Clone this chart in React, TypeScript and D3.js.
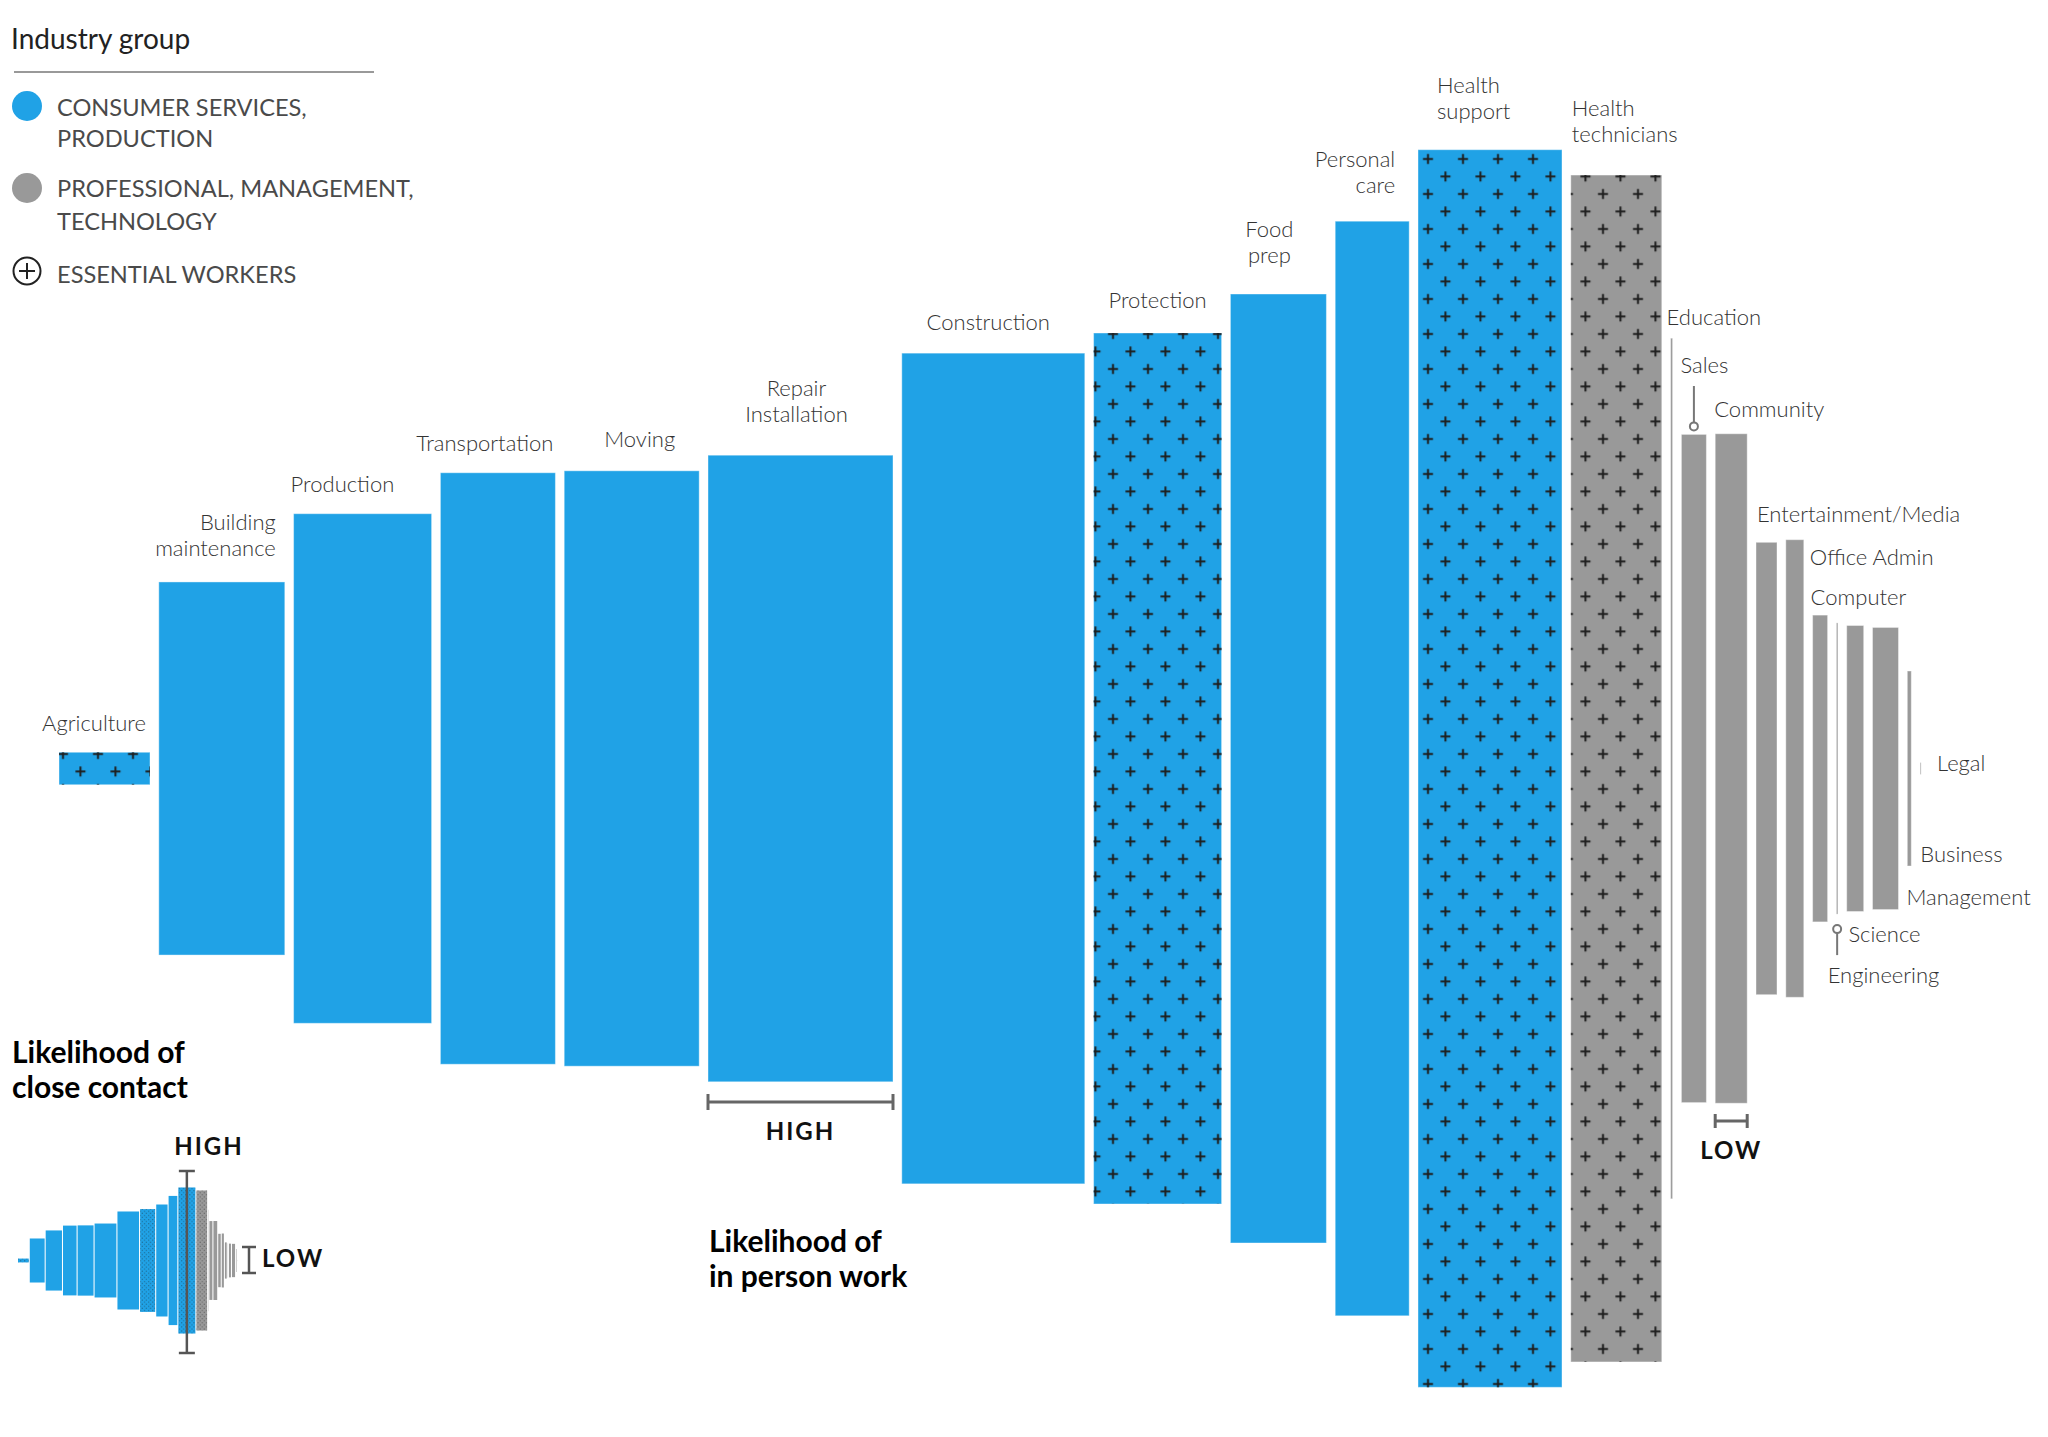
import React from "react";
import { scaleLinear } from "d3";

// occupations, left to right
const occupations = [
  "Agriculture", "Building maintenance", "Production", "Transportation", "Moving",
  "Repair Installation", "Construction", "Protection", "Food prep", "Personal care",
  "Health support", "Health technicians", "Education", "Sales", "Community",
  "Entertainment/Media", "Office Admin", "Computer", "Science", "Engineering",
  "Management", "Business", "Legal",
];

// likelihood of in person work (bar width)
const inPersonWork = [
  45.5, 63, 69, 57.5, 67.5, 92.5, 91.5, 64, 48, 37, 72, 45.5,
  1, 12.5, 16, 10.5, 9, 7.5, 0.75, 8.5, 13, 2, 0.5,
];

// likelihood of close contact (bar height)
const closeContact = [
  2.5, 28.7, 39.2, 45.5, 45.8, 48.2, 63.9, 67, 73, 84.2, 95.2, 91.3,
  66.2, 51.4, 51.5, 34.8, 35.2, 23.6, 22.4, 22, 21.7, 15, 0.9,
];

const industryGroup = [
  "consumer", "consumer", "consumer", "consumer", "consumer", "consumer",
  "consumer", "consumer", "consumer", "consumer", "consumer", "professional",
  "professional", "professional", "professional", "professional", "professional",
  "professional", "professional", "professional", "professional", "professional",
  "professional",
];

const essentialWorkers = ["Agriculture", "Protection", "Health support", "Health technicians"];

const legendItems = [
  { key: "consumer", lines: ["CONSUMER SERVICES,", "PRODUCTION"] },
  { key: "professional", lines: ["PROFESSIONAL, MANAGEMENT,", "TECHNOLOGY"] },
  { key: "essential", lines: ["ESSENTIAL WORKERS"] },
];

const colors: Record<string, string> = { consumer: "#20a2e6", professional: "#999999" };

const W = 2048;
const H = 1437;
const centerY = 768.5;
const startX = 59;
const gap = 8.8;
const lineH = 26;
const font = "Lato, 'Source Sans Pro', 'Open Sans', sans-serif";

const widthScale = scaleLinear().domain([0, 100]).range([0, 200]);
const heightScale = scaleLinear().domain([0, 100]).range([0, 1300]);

// label placement: edge of bar to align to, dx, and baseline of last line relative to top/bottom/center
type Place = { lines: string[]; anchor: "start" | "middle" | "end"; edge: "left" | "right" | "center"; dx: number; ref: "top" | "bottom" | "center"; dy: number };
const labelPlacement: Record<string, Place> = {
  "Agriculture": { lines: ["Agriculture"], anchor: "end", edge: "right", dx: -4, ref: "top", dy: -21 },
  "Building maintenance": { lines: ["Building", "maintenance"], anchor: "end", edge: "right", dx: -9, ref: "top", dy: -26 },
  "Production": { lines: ["Production"], anchor: "start", edge: "left", dx: -3, ref: "top", dy: -22 },
  "Transportation": { lines: ["Transportation"], anchor: "end", edge: "right", dx: -2, ref: "top", dy: -22 },
  "Moving": { lines: ["Moving"], anchor: "middle", edge: "center", dx: 8, ref: "top", dy: -24 },
  "Repair Installation": { lines: ["Repair", "Installation"], anchor: "middle", edge: "center", dx: -4, ref: "top", dy: -33 },
  "Construction": { lines: ["Construction"], anchor: "middle", edge: "center", dx: -5, ref: "top", dy: -23 },
  "Protection": { lines: ["Protection"], anchor: "middle", edge: "center", dx: 0, ref: "top", dy: -25 },
  "Food prep": { lines: ["Food", "prep"], anchor: "middle", edge: "center", dx: -9, ref: "top", dy: -31 },
  "Personal care": { lines: ["Personal", "care"], anchor: "end", edge: "right", dx: -14, ref: "top", dy: -28 },
  "Health support": { lines: ["Health", "support"], anchor: "start", edge: "left", dx: 19, ref: "top", dy: -31 },
  "Health technicians": { lines: ["Health", "technicians"], anchor: "start", edge: "left", dx: 1, ref: "top", dy: -33 },
  "Education": { lines: ["Education"], anchor: "start", edge: "left", dx: -4, ref: "top", dy: -13 },
  "Sales": { lines: ["Sales"], anchor: "start", edge: "left", dx: -1, ref: "top", dy: -61 },
  "Community": { lines: ["Community"], anchor: "start", edge: "left", dx: -1, ref: "top", dy: -17 },
  "Entertainment/Media": { lines: ["Entertainment/Media"], anchor: "start", edge: "left", dx: 1, ref: "top", dy: -20 },
  "Office Admin": { lines: ["Office Admin"], anchor: "start", edge: "right", dx: 6, ref: "top", dy: 25 },
  "Computer": { lines: ["Computer"], anchor: "start", edge: "left", dx: -2, ref: "top", dy: -10 },
  "Science": { lines: ["Science"], anchor: "start", edge: "left", dx: 12, ref: "bottom", dy: 28 },
  "Engineering": { lines: ["Engineering"], anchor: "start", edge: "left", dx: -19, ref: "bottom", dy: 71 },
  "Management": { lines: ["Management"], anchor: "start", edge: "right", dx: 8, ref: "bottom", dy: -5 },
  "Business": { lines: ["Business"], anchor: "start", edge: "right", dx: 9, ref: "bottom", dy: -4 },
  "Legal": { lines: ["Legal"], anchor: "start", edge: "right", dx: 16, ref: "center", dy: 2 },
};

// cumulative layout
let cursor = startX;
const bars = occupations.map((name, i) => {
  const w = widthScale(inPersonWork[i]);
  const h = heightScale(closeContact[i]);
  const x = cursor;
  cursor += w + gap;
  return {
    name, x, w, h,
    top: centerY - h / 2,
    bottom: centerY + h / 2,
    fill: colors[industryGroup[i]],
    essential: essentialWorkers.includes(name),
  };
});
const barByName = (n: string) => bars.find(b => b.name === n)!;

function Bars({ outline }: { outline: boolean }) {
  return (
    <g>
      {bars.map(b => (
        <g key={b.name}>
          <rect x={b.x} y={b.top} width={b.w} height={b.h} fill={b.fill}
            stroke={outline ? "rgba(255,255,255,0.4)" : "none"} strokeWidth={1} />
          {b.essential && <rect x={b.x} y={b.top} width={b.w} height={b.h} fill="url(#plusPattern)" />}
        </g>
      ))}
    </g>
  );
}

function Labels() {
  return (
    <g fontFamily={font} fontSize={22} fontWeight={300} fill="#333">
      {bars.map(b => {
        const p = labelPlacement[b.name];
        const ax = p.edge === "left" ? b.x : p.edge === "right" ? b.x + b.w : b.x + b.w / 2;
        const refY = p.ref === "top" ? b.top : p.ref === "bottom" ? b.bottom : centerY;
        const lastY = refY + p.dy;
        const firstY = lastY - lineH * (p.lines.length - 1);
        return (
          <text key={b.name} x={ax + p.dx} y={firstY} textAnchor={p.anchor}>
            {p.lines.map((l, k) => (
              <tspan key={k} x={ax + p.dx} y={firstY + k * lineH}>{l}</tspan>
            ))}
          </text>
        );
      })}
    </g>
  );
}

function Bracket({ x1, x2, y, cap }: { x1: number; x2: number; y: number; cap: number }) {
  return (
    <g stroke="#666" strokeWidth={3} fill="none">
      <line x1={x1} x2={x2} y1={y} y2={y} />
      <line x1={x1} x2={x1} y1={y - cap} y2={y + cap} />
      <line x1={x2} x2={x2} y1={y - cap} y2={y + cap} />
    </g>
  );
}

function VBracket({ x, y1, y2, cap }: { x: number; y1: number; y2: number; cap: number }) {
  return (
    <g stroke="#555" strokeWidth={2.5} fill="none">
      <line x1={x} x2={x} y1={y1} y2={y2} />
      <line x1={x - cap} x2={x + cap} y1={y1} y2={y1} />
      <line x1={x - cap} x2={x + cap} y1={y2} y2={y2} />
    </g>
  );
}

export default function App() {
  const repair = barByName("Repair Installation");
  const community = barByName("Community");
  const sales = barByName("Sales");
  const science = barByName("Science");
  const hs = barByName("Health support");

  // thumbnail of the whole chart
  const k = 0.118;
  const miniX = 18 - startX * k;
  const miniY = 1260.5 - centerY * k;
  const miniHsX = miniX + (hs.x + hs.w / 2) * k;

  return (
    <svg width={W} height={H} style={{ position: "absolute", left: 0, top: 0, background: "#fff" }}>
      <defs>
        <pattern id="plusPattern" patternUnits="userSpaceOnUse" x={19.25} y={10.25} width={35} height={35}>
          <path d="M3.75 8.75h10M8.75 3.75v10M21.25 26.25h10M26.25 21.25v10" stroke="#1e1e1e" strokeWidth={2} />
        </pattern>
      </defs>

      {/* legend */}
      <text x={11} y={49} fontFamily={font} fontSize={28} fill="#222">Industry group</text>
      <line x1={14} x2={374} y1={72} y2={72} stroke="#999" strokeWidth={2} />
      {legendItems.map((item, i) => {
        const cy = [106, 188, 271][i];
        const ty = [116, 197, 283][i];
        const lh = [31, 33, 0][i];
        return (
          <g key={item.key}>
            {item.key === "essential" ? (
              <g stroke="#222" strokeWidth={2} fill="none">
                <circle cx={27} cy={cy} r={13.5} />
                <line x1={19} x2={35} y1={cy} y2={cy} />
                <line x1={27} x2={27} y1={cy - 8} y2={cy + 8} />
              </g>
            ) : (
              <circle cx={27} cy={cy} r={15} fill={colors[item.key]} />
            )}
            <text fontFamily={font} fontSize={23.6} fill="#4a4a4a">
              {item.lines.map((l, j) => (
                <tspan key={j} x={57} y={ty + j * lh}>{l}</tspan>
              ))}
            </text>
          </g>
        );
      })}

      <Bars outline={true} />
      <Labels />

      {/* pins */}
      <g stroke="#777" strokeWidth={2} fill="#fff">
        <line x1={sales.x + sales.w / 2} x2={sales.x + sales.w / 2} y1={386} y2={sales.top - 12} />
        <circle cx={sales.x + sales.w / 2} cy={sales.top - 8} r={4} />
        <line x1={science.x + science.w / 2} x2={science.x + science.w / 2} y1={science.bottom + 19} y2={science.bottom + 41} />
        <circle cx={science.x + science.w / 2} cy={science.bottom + 15} r={4} />
      </g>

      {/* width key */}
      <Bracket x1={repair.x} x2={repair.x + repair.w} y={1102} cap={8} />
      <text x={repair.x + repair.w / 2} y={1140} textAnchor="middle" fontFamily={font} fontSize={24}
        fontWeight={700} letterSpacing={2} fill="#111">HIGH</text>
      <Bracket x1={community.x} x2={community.x + community.w} y={1121} cap={7} />
      <text x={community.x + community.w / 2} y={1159} textAnchor="middle" fontFamily={font} fontSize={24}
        fontWeight={700} letterSpacing={2} fill="#111">LOW</text>

      <text fontFamily={font} fontSize={30} fontWeight={700} fill="#000">
        <tspan x={709} y={1252}>Likelihood of</tspan>
        <tspan x={709} y={1287}>in person work</tspan>
      </text>

      {/* height key */}
      <text fontFamily={font} fontSize={30} fontWeight={700} fill="#000">
        <tspan x={12} y={1063}>Likelihood of</tspan>
        <tspan x={12} y={1098}>close contact</tspan>
      </text>
      <g transform={`translate(${miniX},${miniY}) scale(${k})`}>
        <Bars outline={false} />
      </g>
      <VBracket x={miniHsX} y1={1171} y2={1353} cap={8} />
      <text x={209} y={1155} textAnchor="middle" fontFamily={font} fontSize={24}
        fontWeight={700} letterSpacing={2} fill="#111">HIGH</text>
      <VBracket x={249} y1={1247} y2={1273} cap={7} />
      <text x={262} y={1267} fontFamily={font} fontSize={24}
        fontWeight={700} letterSpacing={2} fill="#111">LOW</text>
    </svg>
  );
}
